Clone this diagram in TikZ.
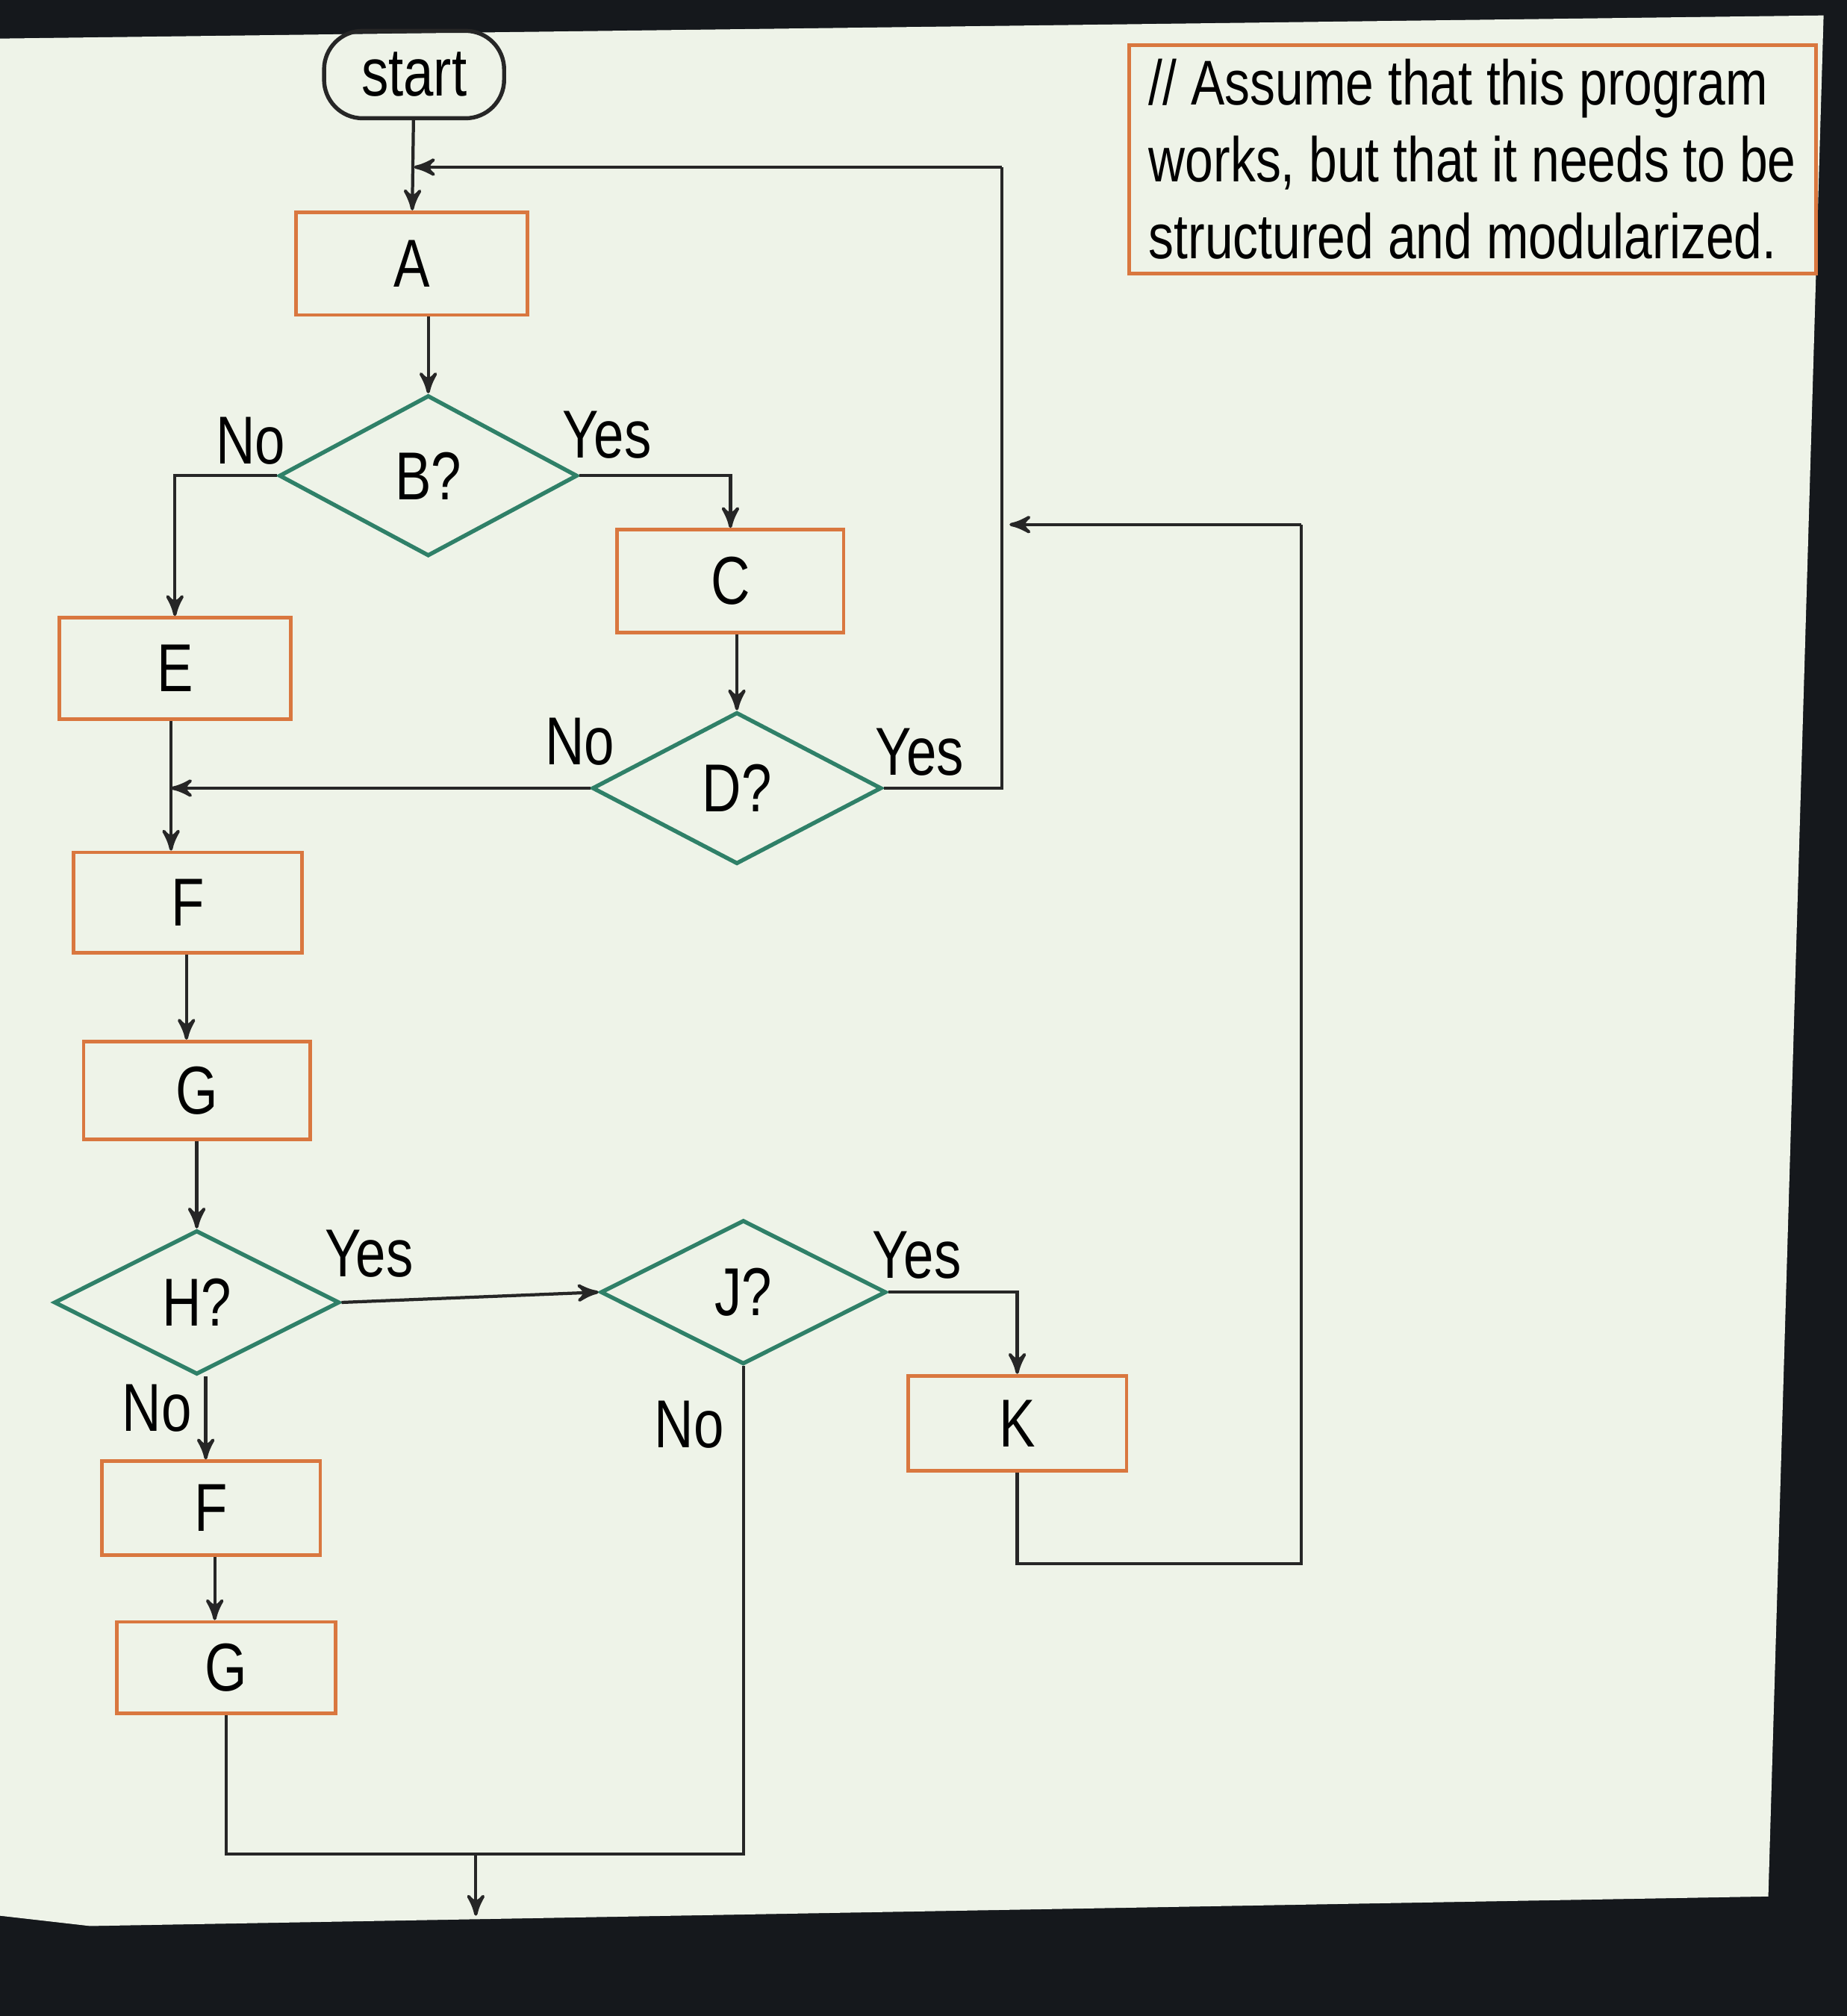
\documentclass[tikz,border=0pt]{standalone}
\usepackage{fontspec}
\setmainfont{Liberation Sans}[FakeStretch=0.8]
\usetikzlibrary{shapes.geometric,arrows}
\definecolor{boxorange}{HTML}{D9773F}
\definecolor{decgreen}{HTML}{2F8068}
\definecolor{panel}{HTML}{EEF3E8}
\definecolor{screen}{HTML}{15181C}
\tikzset{
	box/.style={draw=boxorange, line width=0.8pt, rectangle, inner sep=0pt},
	dec/.style={draw=decgreen, line width=0.9pt, diamond, aspect=2, inner sep=0pt},
	term/.style={draw=black!85, line width=0.9pt, rounded corners=0.3cm, inner sep=0pt},
	lbl/.style={font=\fontsize{15}{17}\selectfont},
	flow/.style={draw=black!85, line width=0.7pt, -stealth'},
	line/.style={draw=black!85, line width=0.7pt}
}
\begin{document}
\begin{tikzpicture}[x=1cm,y=1cm,font=\fontsize{15}{17}\selectfont]
	\useasboundingbox (0,0) rectangle (14.36,-15.68);
	% background
	\fill[screen] (0,0) rectangle (14.36,-15.68);
	\fill[panel] (0,-0.3) -- (14.18,-0.12) -- (13.75,-14.75) -- (0.7,-14.98) -- (0,-14.9) -- cycle;
	
	% nodes
	\node[term, minimum width=1.4cm, minimum height=0.68cm] (start) at (3.22,-0.58) {start};
	\node[box, minimum width=1.8cm, minimum height=0.8cm] (A) at (3.20,-2.05) {A};
	\node[dec, minimum width=2.32cm, minimum height=1.25cm] (B) at (3.33,-3.70) {B?};
	\node[box, minimum width=1.76cm, minimum height=0.8cm] (C) at (5.68,-4.52) {C};
	\node[dec, minimum width=2.25cm, minimum height=1.18cm] (D) at (5.73,-6.13) {D?};
	\node[box, minimum width=1.8cm, minimum height=0.79cm] (E) at (1.36,-5.20) {E};
	\node[box, minimum width=1.78cm, minimum height=0.78cm] (F) at (1.46,-7.02) {F};
	\node[box, minimum width=1.76cm, minimum height=0.76cm] (G) at (1.53,-8.48) {G};
	\node[dec, minimum width=2.22cm, minimum height=1.12cm] (H) at (1.53,-10.13) {H?};
	\node[dec, minimum width=2.22cm, minimum height=1.12cm] (J) at (5.78,-10.05) {J?};
	\node[box, minimum width=1.70cm, minimum height=0.74cm] (K) at (7.91,-11.07) {K};
	\node[box, minimum width=1.70cm, minimum height=0.73cm] (F2) at (1.64,-11.73) {F};
	\node[box, minimum width=1.70cm, minimum height=0.71cm] (G2) at (1.76,-12.97) {G};
	\node[box, minimum width=5.34cm, minimum height=1.78cm, align=left,
		font=\fontsize{14}{17}\selectfont] (note) at (11.45,-1.24)
		{// Assume that this program\\works, but that it needs to be\\structured and modularized.};
	
	% bend points
	\coordinate (topin) at (3.22,-1.30);
	\coordinate (loopA) at (7.79,-1.30);
	\coordinate (kin) at (7.85,-4.08);
	\coordinate (kA) at (7.91,-12.16);
	\coordinate (kB) at (10.12,-12.16);
	\coordinate (kC) at (10.12,-4.08);
	\coordinate (ein) at (1.33,-6.13);
	\coordinate (jA) at (5.78,-14.42);
	\coordinate (gA) at (1.76,-14.42);
	\coordinate (outA) at (3.70,-14.42);
	\coordinate (outB) at (3.70,-14.90);
	
	% connectors
	\draw[flow] (start) -- (A);
	\draw[flow] (A.south -| B) -- (B);
	\draw[flow] (B.east) -| (C);
	\draw[flow] (B.west) -| (E);
	\draw[flow] (C.south -| D) -- (D);
	\draw[line] (D.east) -| (loopA);
	\draw[flow] (loopA) -- (topin);
	\draw[line] (E.south -| ein) -- (ein);
	\draw[flow] (ein) -- (F.north -| ein);
	\draw[flow] (D.west) -- (ein);
	\draw[flow] (F.south -| 1.45,0) -- (G.north -| 1.45,0);
	\draw[flow] (G.south -| 1.53,0) -- (H.north);
	\draw[flow] (H.east) -- (J.west);
	\draw[flow] (H.south -| 1.60,0) -- (F2.north -| 1.60,0);
	\draw[flow] (F2.south -| 1.67,0) -- (G2.north -| 1.67,0);
	\draw[flow] (J.east) -| (K.north);
	\draw[line] (K.south) -- (kA) -- (kB) -- (kC);
	\draw[flow] (kC) -- (kin);
	\draw[line] (J.south) -- (jA) -- (gA) -- (G2.south);
	\draw[flow] (outA) -- (outB);
	
	% labels
	\node[lbl] (lNoB) at (1.95,-3.43) {No};
	\node[lbl] (lYesB) at (4.72,-3.38) {Yes};
	\node[lbl] (lNoD) at (4.51,-5.77) {No};
	\node[lbl] (lYesD) at (7.15,-5.85) {Yes};
	\node[lbl] (lYesH) at (2.87,-9.75) {Yes};
	\node[lbl] (lNoH) at (1.22,-10.95) {No};
	\node[lbl] (lYesJ) at (7.13,-9.76) {Yes};
	\node[lbl] (lNoJ) at (5.36,-11.08) {No};
\end{tikzpicture}
\end{document}
